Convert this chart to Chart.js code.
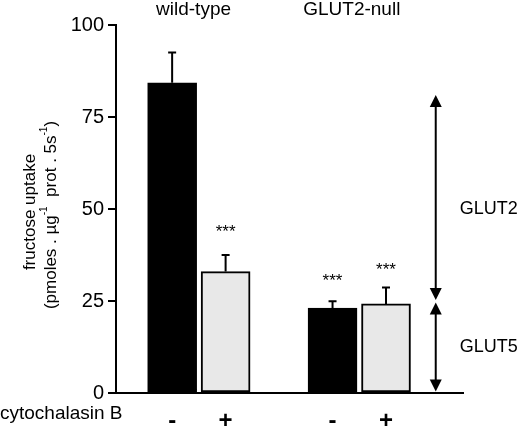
<!DOCTYPE html>
<html>
<head>
<meta charset="utf-8">
<script src="https://cdn.jsdelivr.net/npm/chart.js@4/dist/chart.umd.min.js"></script>
<style>
  body { margin: 0; background: #fff; }
  canvas { display: block; }
</style>
</head>
<body>
<canvas id="chart" width="520" height="426"></canvas>
<script>
// bar positions on the x axis (gap between the two genotypes)
var barPos = [0, 1, 3, 4];
var signs = ['-', '+', '-', '+'];
var groups = ['wild-type', 'GLUT2-null'];
var groupPos = [0.4, 3.36];
var uptake = [84.3, 33.0, 23.1, 24.2];
var uptakeErr = [8.2, 4.5, 1.8, 4.5];
var sigText = ['', '***', '***', '***'];
var sigLevel = [null, 45, 31.7, 34.8];
var yTicks = [0, 25, 50, 75, 100];
var barColors = ['#000000', '#e8e8e8', '#000000', '#e8e8e8'];

// bracket arrows on the right
var bracketX = 4.93;
var glut2Range = [81, 25.3];
var glut5Range = [24.6, 0.4];
var bracketLabels = ['GLUT2', 'GLUT5'];
var bracketLabelY = [50, 12.6];
var bracketLabelX = 5.38;

var FONT = 'Liberation Sans, Arial, sans-serif';

var extras = {
	id: 'extras',
	afterDatasetsDraw: function(chart) {
		var ctx = chart.ctx;
		var xs = chart.scales.x, ys = chart.scales.y;
		ctx.save();
		ctx.strokeStyle = '#000';
		ctx.fillStyle = '#000';
		ctx.lineWidth = 2;
		// error bars (upper only)
		for (var i = 0; i < barPos.length; i++) {
			var px = xs.getPixelForValue(barPos[i]);
			var y0 = ys.getPixelForValue(uptake[i]);
			var y1 = ys.getPixelForValue(uptake[i] + uptakeErr[i]);
			ctx.beginPath();
			ctx.moveTo(px, y0);
			ctx.lineTo(px, y1);
			ctx.moveTo(px - 4, y1);
			ctx.lineTo(px + 4, y1);
			ctx.stroke();
		}
		// significance stars
		ctx.font = '17px ' + FONT;
		ctx.textAlign = 'center';
		ctx.textBaseline = 'alphabetic';
		for (var i = 0; i < barPos.length; i++) {
			if (!sigText[i]) continue;
			ctx.fillText(sigText[i], xs.getPixelForValue(barPos[i]), ys.getPixelForValue(sigLevel[i]) + 10);
		}
		// arrows
		function arrow(v0, v1) {
			var x = xs.getPixelForValue(bracketX);
			var a = ys.getPixelForValue(v0), b = ys.getPixelForValue(v1);
			ctx.beginPath();
			ctx.moveTo(x, a + 10);
			ctx.lineTo(x, b - 10);
			ctx.stroke();
			ctx.beginPath();
			ctx.moveTo(x, a); ctx.lineTo(x - 6, a + 12); ctx.lineTo(x + 6, a + 12); ctx.closePath();
			ctx.fill();
			ctx.beginPath();
			ctx.moveTo(x, b); ctx.lineTo(x - 6, b - 12); ctx.lineTo(x + 6, b - 12); ctx.closePath();
			ctx.fill();
		}
		arrow(glut2Range[0], glut2Range[1]);
		arrow(glut5Range[0], glut5Range[1]);
		ctx.font = '18px ' + FONT;
		ctx.textAlign = 'left';
		ctx.textBaseline = 'middle';
		for (var i = 0; i < bracketLabels.length; i++) {
			ctx.fillText(bracketLabels[i], xs.getPixelForValue(bracketLabelX), ys.getPixelForValue(bracketLabelY[i]));
		}
		// group titles
		ctx.textAlign = 'center';
		ctx.font = '19px ' + FONT;
		for (var i = 0; i < groups.length; i++) {
			ctx.fillText(groups[i], xs.getPixelForValue(groupPos[i]), 10);
		}
		// treatment label
		ctx.textAlign = 'left';
		ctx.fillText('cytochalasin B', 0, chart.chartArea.bottom + 21);
		// y title
		var cy = (chart.chartArea.top + chart.chartArea.bottom) / 2 + 3;
		ctx.save();
		ctx.translate(30, cy);
		ctx.rotate(-Math.PI / 2);
		ctx.textAlign = 'center';
		ctx.font = '17px ' + FONT;
		ctx.fillText('fructose uptake', 0, 0);
		ctx.restore();
		ctx.save();
		ctx.translate(51, cy + 3);
		ctx.rotate(-Math.PI / 2);
		var parts = [['(pmoles . µg', 0], ['-1', 1], ['  prot . 5s', 0], ['-1', 1], [')', 0]];
		var total = 0;
		parts.forEach(function(p) {
			ctx.font = (p[1] ? '10px ' : '17px ') + FONT;
			total += ctx.measureText(p[0]).width;
		});
		var cx = -total / 2;
		ctx.textAlign = 'left';
		parts.forEach(function(p) {
			ctx.font = (p[1] ? '10px ' : '17px ') + FONT;
			ctx.fillText(p[0], cx, p[1] ? -7 : 0);
			cx += ctx.measureText(p[0]).width;
		});
		ctx.restore();
		ctx.restore();
	}
};

var ctx = document.getElementById('chart').getContext('2d');
var chart = new Chart(ctx, {
	type: 'bar',
	data: {
		datasets: [{
			data: barPos.map(function(p, i) { return { x: p, y: uptake[i] }; }),
			backgroundColor: barColors,
			borderColor: '#000000',
			borderWidth: 2,
			borderSkipped: false,
			barThickness: 49
		}]
	},
	plugins: [extras],
	options: {
		responsive: false,
		animation: false,
		devicePixelRatio: 1,
		layout: { padding: { left: 0, right: 57, top: 25, bottom: 0 } },
		plugins: { legend: { display: false }, tooltip: { enabled: false } },
		scales: {
			x: {
				type: 'linear',
				offset: false,
				min: -1.05,
				max: 5.44,
				grid: { display: false, offset: false },
				border: { display: true, color: '#000', width: 2 },
				afterBuildTicks: function(scale) {
					scale.ticks = barPos.map(function(v) { return { value: v }; });
				},
				afterFit: function(scale) { scale.height = 33; },
				ticks: {
					autoSkip: false,
					maxRotation: 0,
					padding: 6,
					color: '#000',
					font: { family: FONT, size: 24, weight: 'bold' },
					callback: function(v) { return signs[barPos.indexOf(v)]; }
				}
			},
			y: {
				min: 0,
				max: 100,
				afterBuildTicks: function(scale) {
					scale.ticks = yTicks.map(function(v) { return { value: v }; });
				},
				afterFit: function(scale) { scale.width = 116; },
				grid: { drawOnChartArea: false, drawTicks: true, tickLength: 8, color: '#000', lineWidth: 2 },
				border: { display: true, color: '#000', width: 2 },
				ticks: {
					padding: 4,
					color: '#000',
					font: { family: FONT, size: 20 }
				}
			}
		}
	}
});
</script>
</body>
</html>
